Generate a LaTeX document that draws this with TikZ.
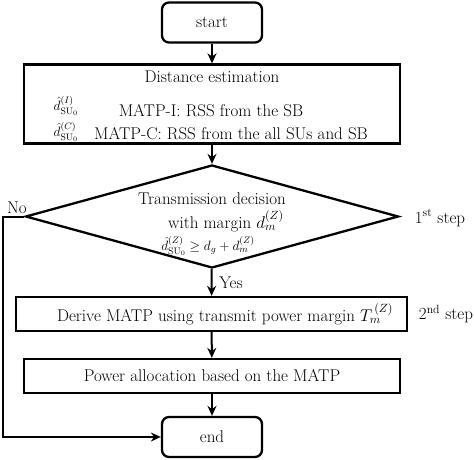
\documentclass[tikz,border=0pt]{standalone}
\usepackage{fix-cm}
\usepackage{amsmath}
\usepackage{fontspec}
\usetikzlibrary{shapes.geometric,arrows.meta}
\begin{document}
\begin{tikzpicture}[x=1pt,y=-1pt,
  every node/.style={font=\fontsize{17}{20}\selectfont},
  box/.style={draw,line width=2.3pt,inner sep=0pt},
  term/.style={box,rounded corners=7pt,minimum width=100pt,minimum height=40pt},
  flow/.style={line width=2pt,-{Stealth[length=10pt,width=9pt]}},
  lbl/.style={inner sep=0pt},
  mlbl/.style={inner sep=0pt,font=\fontsize{13.5}{16}\selectfont}]
\useasboundingbox (0,0) rectangle (474,460);
\node[term] (start) at (212,22.5) {start};
\node[box,minimum width=376pt,minimum height=79pt] (dist) at (212,104) {};
\node[lbl] (distT) at (212,77) {Distance estimation};
\node[mlbl] (dI) at (66,106) {${\hat{d}}^{(I)}_{\mathrm{SU}_0}$};
\node[mlbl] (dC) at (66,132) {${\hat{d}}^{(C)}_{\mathrm{SU}_0}$};
\node[lbl] (mI) at (211,111) {MATP-I: RSS from the SB};
\node[lbl] (mC) at (231,134) {MATP-C: RSS from the all SUs and SB};
\node[draw,diamond,line width=2.3pt,inner sep=0pt,minimum width=373pt,minimum height=103pt] (dec) at (212,216.5) {};
\node[lbl] (decT) at (212,199) {Transmission decision};
\node[lbl] (decM) at (226,221) {with margin $d_m^{(Z)}$};
\node[mlbl] (decC) at (208,246) {${\hat{d}}^{(Z)}_{\mathrm{SU}_0}\geq d_g+d_m^{(Z)}$};
\node[box,minimum width=391pt,minimum height=34pt] (derive) at (211.5,314) {};
\node[lbl] (deriveT) at (225,314) {Derive MATP using transmit power margin $T_m^{\,(Z)}$};
\node[box,minimum width=376pt,minimum height=34pt] (power) at (212,376) {Power allocation based on the MATP};
\node[term] (end) at (212,437) {end};
\node[lbl] (no) at (17,208) {No};
\node[lbl] (yes) at (231,283) {Yes};
\node[lbl] (s1) at (440,218) {1\textsuperscript{st} step};
\node[lbl] (s2) at (446,314) {2\textsuperscript{nd} step};
\coordinate (ncorner) at (3,216.5);
\coordinate (nbottom) at (3,437);
\draw[flow] (start) -- (dist);
\draw[flow] (dist) -- (dec);
\draw[flow] (dec) -- (derive);
\draw[flow] (derive) -- (power);
\draw[flow] (power) -- (end);
\draw[flow] (dec.west) -- (ncorner) -- (nbottom) -- (end.west);
\end{tikzpicture}
\end{document}
